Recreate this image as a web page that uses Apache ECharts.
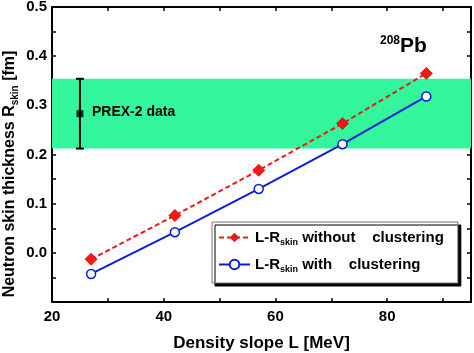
<!DOCTYPE html>
<html><head><meta charset="utf-8">
<script src="https://cdn.jsdelivr.net/npm/echarts@6/dist/echarts.min.js"></script>
<style>html,body{margin:0;padding:0;background:#fff}#c{width:474px;height:353px}</style>
</head><body><div id="c"></div>
<script>
const densitySlopeL = [27, 42, 57, 72, 87];
const rskinWithout = [-0.013, 0.076, 0.168, 0.263, 0.365];
const rskinWith = [-0.043, 0.042, 0.130, 0.221, 0.318];
const prexL = [25];
const prexMean = [0.283];
const prexErr = [0.071];
const xTickLabels = [20, 40, 60, 80];
const yTickLabels = [0.0, 0.1, 0.2, 0.3, 0.4, 0.5];

const F = '"Liberation Sans", Arial, sans-serif';
const chart = echarts.init(document.getElementById('c'));
const axisCommon = {
  axisLine: {show: true, onZero: false, lineStyle: {color: '#000', width: 2}},
  axisTick: {show: true, inside: true, length: 4, lineStyle: {color: '#000', width: 1.5}},
  splitLine: {show: false}
};
const legendRich = {
  b: {fontFamily: F, fontWeight: 'bold', fontSize: 15, color: '#000'},
  s: {fontFamily: F, fontWeight: 'bold', fontSize: 9, color: '#000', padding: [10, 0, 0, 0]}
};
chart.setOption({
  animation: false,
  grid: {left: 52, right: 3, top: 7, bottom: 51, containLabel: false, outerBoundsMode: 'none'},
  xAxis: [
    Object.assign({}, axisCommon, {
      type: 'value', min: 20, max: 95, interval: 10, position: 'bottom',
      name: 'Density slope L [MeV]', nameLocation: 'middle', nameGap: 33,
      nameTextStyle: {fontFamily: F, fontWeight: 'bold', fontSize: 17, color: '#000'},
      axisLabel: {fontFamily: F, fontWeight: 'bold', fontSize: 15, color: '#000', margin: 7,
        showMaxLabel: false,
        formatter: v => xTickLabels.indexOf(Math.round(v)) >= 0 ? String(Math.round(v)) : ''}
    }),
    Object.assign({}, axisCommon, {
      type: 'value', min: 20, max: 95, interval: 10, position: 'top',
      axisLabel: {show: false}
    })
  ],
  yAxis: [
    Object.assign({}, axisCommon, {
      type: 'value', min: -0.1, max: 0.5, interval: 0.05, position: 'left',
      axisLabel: {fontFamily: F, fontWeight: 'bold', fontSize: 15, color: '#000', margin: 5,
        showMaxLabel: true,
        formatter: v => {
          const r = Math.round(v * 100);
          if (r % 10 !== 0) return '';
          const val = r / 100;
          return yTickLabels.indexOf(val) >= 0 ? val.toFixed(1) : '';
        }}
    }),
    Object.assign({}, axisCommon, {
      type: 'value', min: -0.1, max: 0.5, interval: 0.05, position: 'right',
      axisLabel: {show: false}
    })
  ],
  legend: {
    orient: 'vertical', left: 212, top: 222,
    padding: [8, 14, 9, 6], itemGap: 10, itemWidth: 31, itemHeight: 12,
    backgroundColor: '#fff', borderColor: '#777', borderWidth: 1,
    shadowColor: '#000', shadowBlur: 0, shadowOffsetX: 3, shadowOffsetY: 3,
    data: ['without', 'with'],
    formatter: name => name === 'without'
      ? '{b|L-R}{s|skin}{b| without    clustering}'
      : '{b|L-R}{s|skin}{b| with    clustering}',
    textStyle: {rich: legendRich, padding: [0, 0, 0, 0]}
  },
  series: [
    {
      type: 'scatter', z: 1,
      data: prexL.map((x, i) => [x, prexMean[i]]),
      symbol: 'rect', symbolSize: 7, itemStyle: {color: '#000'},
      markArea: {silent: true, itemStyle: {color: '#33f59b', opacity: 1},
        data: [[{yAxis: prexMean[0] - prexErr[0]}, {yAxis: prexMean[0] + prexErr[0]}]]}
    },
    {
      type: 'custom', z: 2,
      data: prexL.map((x, i) => [x, prexMean[i], prexErr[i]]),
      renderItem: (params, api) => {
        const x = api.value(0), m = api.value(1), e = api.value(2);
        const lo = api.coord([x, m - e]), hi = api.coord([x, m + e]);
        const st = {stroke: '#000', lineWidth: 2};
        return {type: 'group', children: [
          {type: 'line', shape: {x1: lo[0], y1: lo[1], x2: hi[0], y2: hi[1]}, style: st},
          {type: 'line', shape: {x1: lo[0] - 4, y1: lo[1], x2: lo[0] + 4, y2: lo[1]}, style: st},
          {type: 'line', shape: {x1: hi[0] - 4, y1: hi[1], x2: hi[0] + 4, y2: hi[1]}, style: st}
        ]};
      }
    },
    {
      name: 'without', type: 'line', z: 4,
      data: densitySlopeL.map((x, i) => [x, rskinWithout[i]]),
      symbol: 'diamond', symbolSize: 12,
      lineStyle: {color: '#f01818', width: 2, type: [5, 3]},
      itemStyle: {color: '#f01818', borderColor: '#f01818'}
    },
    {
      name: 'with', type: 'line', z: 3,
      data: densitySlopeL.map((x, i) => [x, rskinWith[i]]),
      symbol: 'circle', symbolSize: 9,
      lineStyle: {color: '#0a1fd6', width: 2},
      itemStyle: {color: '#fff', borderColor: '#0a1fd6', borderWidth: 1.5}
    }
  ],
  graphic: [
    {type: 'text', x: 10, y: 174, rotation: Math.PI / 2, z: 10,
      style: {text: '{b|Neutron skin thickness R}{s|skin}{b| [fm]}', align: 'center', verticalAlign: 'middle',
        rich: {
          b: {fontFamily: F, fontWeight: 'bold', fontSize: 16, fill: '#000'},
          s: {fontFamily: F, fontWeight: 'bold', fontSize: 10, fill: '#000', padding: [10, 0, 0, 0]}
        }}},
    {type: 'text', left: 92, top: 105, z: 10,
      style: {text: 'PREX-2 data', fontFamily: F, fontWeight: 'bold', fontSize: 14, fill: '#000'}},
    {type: 'text', left: 380, top: 35, z: 10,
      style: {text: '{sup|208}{pb|Pb}', rich: {
        sup: {fontFamily: F, fontWeight: 'bold', fontSize: 12, fill: '#000', padding: [0, 0, 10, 0]},
        pb: {fontFamily: F, fontWeight: 'bold', fontSize: 21, fill: '#000'}
      }}}
  ]
});
</script></body></html>
